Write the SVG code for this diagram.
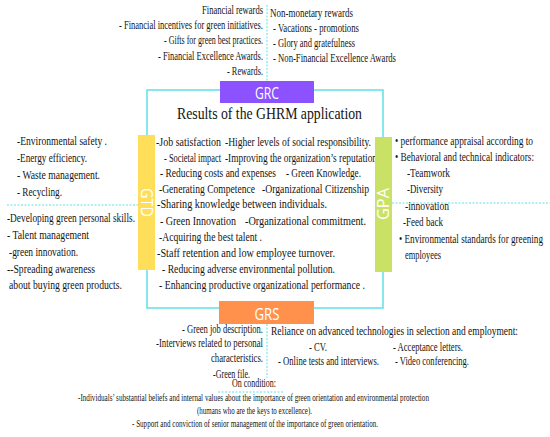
<svg xmlns="http://www.w3.org/2000/svg" width="550" height="437" viewBox="0 0 550 437">
<style>
.t{font-family:"Liberation Serif","Times New Roman",serif;font-size:11.5px;fill:#141414}
.s{font-size:9.5px}
.m{font-size:12.5px}
.h{font-family:"Liberation Serif","Times New Roman",serif;font-size:16.5px;fill:#141414}
.lab{font-family:"Open Sans","Liberation Sans",sans-serif;font-size:16px;fill:#ffffff;text-anchor:middle}
.dash{stroke:#5ce1e6;stroke-width:1;stroke-dasharray:2 1.5;fill:none}
</style>
<g id="connectors">
<line class="dash" x1="267" y1="5" x2="267" y2="81"/>
<line class="dash" x1="7" y1="205" x2="138" y2="205"/>
<line class="dash" x1="392" y1="203" x2="550" y2="203"/>
<line class="dash" x1="267" y1="324" x2="267" y2="378"/>
<line class="dash" x1="218" y1="392" x2="283" y2="392"/>
</g>
<g id="results">
<rect x="147" y="90" width="236" height="218" fill="none" stroke="#5ce1e6" stroke-width="1.5"/>
<text class="h" x="177" y="119" textLength="185" lengthAdjust="spacingAndGlyphs">Results of the GHRM application</text>
<text class="t" x="156" y="146" textLength="65" lengthAdjust="spacingAndGlyphs">-Job satisfaction</text>
<text class="t" x="225" y="146" textLength="146" lengthAdjust="spacingAndGlyphs">-Higher levels of social responsibility.</text>
<text class="t" x="164" y="162" textLength="57" lengthAdjust="spacingAndGlyphs">- Societal impact</text>
<text class="t" x="225" y="162" textLength="152" lengthAdjust="spacingAndGlyphs">-Improving the organization’s reputation</text>
<text class="t" x="160" y="177" textLength="116" lengthAdjust="spacingAndGlyphs">- Reducing costs and expenses</text>
<text class="t" x="286" y="177" textLength="75" lengthAdjust="spacingAndGlyphs">- Green Knowledge.</text>
<text class="t" x="159" y="193" textLength="96" lengthAdjust="spacingAndGlyphs">-Generating Competence</text>
<text class="t" x="262" y="193" textLength="107" lengthAdjust="spacingAndGlyphs">-Organizational Citizenship</text>
<text class="t" x="157" y="208" textLength="170" lengthAdjust="spacingAndGlyphs">-Sharing  knowledge between individuals.</text>
<text class="t" x="160" y="225" textLength="76" lengthAdjust="spacingAndGlyphs">- Green Innovation</text>
<text class="t" x="245" y="225" textLength="121" lengthAdjust="spacingAndGlyphs">-Organizational commitment.</text>
<text class="t" x="159" y="241" textLength="103" lengthAdjust="spacingAndGlyphs">-Acquiring the best talent .</text>
<text class="t" x="157" y="257" textLength="178" lengthAdjust="spacingAndGlyphs">-Staff retention and low employee turnover.</text>
<text class="t" x="162" y="273" textLength="173" lengthAdjust="spacingAndGlyphs">- Reducing adverse environmental pollution.</text>
<text class="t" x="159" y="289" textLength="206" lengthAdjust="spacingAndGlyphs">- Enhancing productive organizational performance .</text>
</g>
<g id="grc">
<rect x="220" y="81" width="94" height="22" fill="#8c52ff"/>
<text class="lab" x="267" y="99" textLength="24" lengthAdjust="spacingAndGlyphs">GRC</text>
<text class="t" x="202" y="14" textLength="61" lengthAdjust="spacingAndGlyphs">Financial rewards</text>
<text class="t" x="119" y="29" textLength="144" lengthAdjust="spacingAndGlyphs">- Financial incentives for green initiatives.</text>
<text class="t" x="164" y="44" textLength="99" lengthAdjust="spacingAndGlyphs">- Gifts for green best practices.</text>
<text class="t" x="158" y="60" textLength="105" lengthAdjust="spacingAndGlyphs">- Financial Excellence Awards.</text>
<text class="t" x="227" y="75" textLength="36" lengthAdjust="spacingAndGlyphs">- Rewards.</text>
<text class="t" x="270" y="17" textLength="83" lengthAdjust="spacingAndGlyphs">Non-monetary rewards</text>
<text class="t" x="273" y="32" textLength="86" lengthAdjust="spacingAndGlyphs">- Vacations - promotions</text>
<text class="t" x="273" y="47" textLength="82" lengthAdjust="spacingAndGlyphs">- Glory and gratefulness</text>
<text class="t" x="273" y="62" textLength="123" lengthAdjust="spacingAndGlyphs">- Non-Financial Excellence  Awards</text>
</g>
<g id="gtd">
<rect x="138" y="135" width="17" height="135" fill="#ffde59"/>
<text class="lab" x="0" y="0" transform="translate(141,202.5) rotate(90)" textLength="29" lengthAdjust="spacingAndGlyphs">GTD</text>
<text class="t" x="17" y="145" textLength="90" lengthAdjust="spacingAndGlyphs">-Environmental safety .</text>
<text class="t" x="17" y="162" textLength="70" lengthAdjust="spacingAndGlyphs">-Energy efficiency.</text>
<text class="t" x="17" y="179" textLength="83" lengthAdjust="spacingAndGlyphs">- Waste management.</text>
<text class="t" x="17" y="196" textLength="45" lengthAdjust="spacingAndGlyphs">- Recycling.</text>
<text class="t" x="7" y="222" textLength="128" lengthAdjust="spacingAndGlyphs">-Developing green personal skills.</text>
<text class="t" x="7" y="239" textLength="82" lengthAdjust="spacingAndGlyphs">- Talent management</text>
<text class="t" x="9" y="256" textLength="69" lengthAdjust="spacingAndGlyphs">-green innovation.</text>
<text class="t" x="7" y="273" textLength="88" lengthAdjust="spacingAndGlyphs">--Spreading awareness</text>
<text class="t" x="9" y="289" textLength="113" lengthAdjust="spacingAndGlyphs">about buying green products.</text>
</g>
<g id="gpa">
<rect x="375" y="137" width="17" height="135" fill="#c9e265"/>
<text class="lab" x="0" y="0" transform="translate(389,204) rotate(-90)" textLength="32" lengthAdjust="spacingAndGlyphs">GPA</text>
<text class="t" x="395" y="145" textLength="138" lengthAdjust="spacingAndGlyphs">•  performance appraisal according to</text>
<text class="t" x="395" y="161" textLength="139" lengthAdjust="spacingAndGlyphs">•  Behavioral and technical indicators:</text>
<text class="t" x="407" y="177" textLength="43" lengthAdjust="spacingAndGlyphs">-Teamwork</text>
<text class="t" x="407" y="193" textLength="36" lengthAdjust="spacingAndGlyphs">-Diversity</text>
<text class="t" x="405" y="210" textLength="44" lengthAdjust="spacingAndGlyphs">-innovation</text>
<text class="t" x="403" y="226" textLength="40" lengthAdjust="spacingAndGlyphs">-Feed back</text>
<text class="t" x="399" y="243" textLength="144" lengthAdjust="spacingAndGlyphs">•  Environmental standards for greening</text>
<text class="t" x="405" y="259" textLength="36" lengthAdjust="spacingAndGlyphs">employees</text>
</g>
<g id="grs">
<rect x="219" y="301" width="95" height="23" fill="#ff914d"/>
<text class="lab" x="267" y="320" textLength="25" lengthAdjust="spacingAndGlyphs" style="font-size:17px">GRS</text>
<text class="t" x="182" y="333" textLength="81" lengthAdjust="spacingAndGlyphs">- Green job description.</text>
<text class="t" x="156" y="347" textLength="107" lengthAdjust="spacingAndGlyphs">-Interviews related to personal</text>
<text class="t" x="211" y="362" textLength="52" lengthAdjust="spacingAndGlyphs">characteristics.</text>
<text class="t" x="213" y="378" textLength="37" lengthAdjust="spacingAndGlyphs">-Green file.</text>
<text class="t m" x="271" y="335" textLength="247" lengthAdjust="spacingAndGlyphs">Reliance on advanced technologies in selection and employment:</text>
<text class="t" x="309" y="351" textLength="18" lengthAdjust="spacingAndGlyphs">- CV.</text>
<text class="t" x="393" y="351" textLength="70" lengthAdjust="spacingAndGlyphs">- Acceptance letters.</text>
<text class="t" x="278" y="365" textLength="101" lengthAdjust="spacingAndGlyphs">- Online tests and interviews.</text>
<text class="t" x="395" y="365" textLength="74" lengthAdjust="spacingAndGlyphs">- Video conferencing.</text>
<text class="t" x="232" y="387" textLength="44" lengthAdjust="spacingAndGlyphs">On condition:</text>
<text class="t s" x="78" y="401" textLength="351" lengthAdjust="spacingAndGlyphs">-Individuals’ substantial beliefs and internal values about the importance of green orientation and environmental protection</text>
<text class="t s" x="197" y="414" textLength="115" lengthAdjust="spacingAndGlyphs">(humans who are the keys to excellence).</text>
<text class="t s" x="132" y="427" textLength="246" lengthAdjust="spacingAndGlyphs">- Support and conviction of senior management of the importance of green orientation.</text>
</g>
</svg>
